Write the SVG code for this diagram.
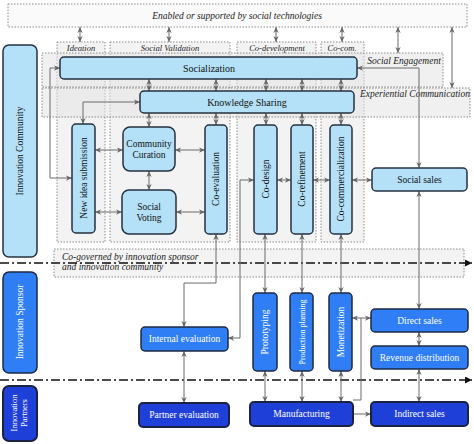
<svg xmlns="http://www.w3.org/2000/svg" width="474" height="444" viewBox="0 0 474 444">
<defs>
<style>
.dot{fill:#f3f3f3;stroke:#8a8a8a;stroke-width:1;stroke-dasharray:1.5 1.5}
.dotw{fill:#fafafa;stroke:#8a8a8a;stroke-width:1;stroke-dasharray:1.5 1.5}
.band{fill:#e4e4e4;fill-opacity:0.55;stroke:#8a8a8a;stroke-width:1;stroke-dasharray:1.5 1.5}
.lc{fill:#b5e1f8;stroke:#26313f;stroke-width:1.5}
.ls{fill:#2f7ef5;stroke:#1d2a44;stroke-width:1.5}
.lp{fill:#1f40d8;stroke:#1a2340;stroke-width:2}
.t{font-family:"Liberation Serif","Times New Roman",serif;font-size:9.5px;fill:#111;text-anchor:middle}
.tw{font-family:"Liberation Serif","Times New Roman",serif;font-size:9.5px;fill:#fff;text-anchor:middle}
.it{font-family:"Liberation Serif","Times New Roman",serif;font-style:italic;font-size:9.5px;fill:#222}
.ph{font-family:"Liberation Serif","Times New Roman",serif;font-style:italic;font-size:8.5px;fill:#222;text-anchor:middle}
.c{fill:none;stroke:#6b6b6b;stroke-width:1;marker-start:url(#a);marker-end:url(#a)}
.c1{fill:none;stroke:#6b6b6b;stroke-width:1;marker-end:url(#a)}
.c0{fill:none;stroke:#6b6b6b;stroke-width:1}
.dd{fill:none;stroke:#111;stroke-width:1.5;stroke-dasharray:9 3 2 3;marker-end:url(#b)}
</style>
<marker id="a" viewBox="0 0 8 8" refX="8" refY="4" markerWidth="6" markerHeight="6" markerUnits="userSpaceOnUse" orient="auto-start-reverse"><path d="M0,0.5 L8,4 L0,7.5 L2.2,4 z" fill="#666"/></marker>
<marker id="b" viewBox="0 0 8 8" refX="8" refY="4" markerWidth="7" markerHeight="7" markerUnits="userSpaceOnUse" orient="auto"><path d="M0,0 L8,4 L0,8 z" fill="#111"/></marker>
</defs>
<rect width="474" height="444" fill="#fff"/>

<g id="frames">
<rect class="dotw" x="8" y="4" width="459" height="23"/>
<text class="it" x="237" y="19" text-anchor="middle">Enabled or supported by social technologies</text>
<rect class="dot" x="57" y="42" width="48" height="200"/>
<rect class="dot" x="110" y="42" width="120" height="200"/>
<rect class="dot" x="237" y="42" width="79" height="200"/>
<rect class="dot" x="321" y="42" width="43" height="200"/>
<text class="ph" x="81" y="51">Ideation</text>
<text class="ph" x="170" y="51">Social Validation</text>
<text class="ph" x="277" y="51">Co-development</text>
<text class="ph" x="342" y="51">Co-com.</text>
<rect class="band" x="42" y="53" width="401" height="34"/>
<rect class="band" x="42" y="88" width="428" height="29"/>
<text class="it" x="404" y="64" text-anchor="middle">Social Engagement</text>
<text class="it" x="415" y="97" text-anchor="middle">Experiential Communication</text>
<rect class="dot" x="54" y="249" width="410" height="28"/>
<text class="it" x="62" y="260">Co-governed by innovation sponsor</text>
<text class="it" x="62" y="270">and innovation community</text>
<path class="dd" d="M0,263 H472"/>
<path class="dd" d="M0,380 H472"/>
</g>

<g id="connectors">
<path class="c" d="M80,27 V42"/>
<path class="c" d="M169,27 V42"/>
<path class="c" d="M276,27 V42"/>
<path class="c" d="M342,27 V42"/>
<path class="c" d="M398,27 V53"/>
<path class="c" d="M452,27 V88"/>
<path class="c" d="M149,79 V91"/>
<path class="c" d="M216,79 V91"/>
<path class="c" d="M266,79 V91"/>
<path class="c" d="M302,79 V91"/>
<path class="c" d="M341,79 V91"/>
<path class="c" d="M149,113 V127"/>
<path class="c" d="M216,113 V125"/>
<path class="c" d="M266,113 V125"/>
<path class="c" d="M302,113 V125"/>
<path class="c" d="M341,113 V125"/>
<path class="c" d="M140,102 H83 V124"/>
<path class="c" d="M60,68 H50 V178 H72"/>
<path class="c" d="M95,150 H123"/>
<path class="c" d="M95,212 H122"/>
<path class="c" d="M175,150 H205"/>
<path class="c" d="M176,212 H205"/>
<path class="c" d="M149,171 V190"/>
<path class="c" d="M254,180 H240 V338 H228"/>
<path class="c" d="M277,180 H291"/>
<path class="c" d="M313,180 H330"/>
<path class="c" d="M352,180 H372"/>
<path class="c" d="M216,234 V283 H184 V327"/>
<path class="c" d="M184,351 V403"/>
<path class="c" d="M265,234 V293"/>
<path class="c" d="M302,234 V293"/>
<path class="c" d="M341,234 V293"/>
<path class="c" d="M357,68 H419 V168"/>
<path class="c" d="M419,191 V309"/>
<path class="c" d="M419,332 V346"/>
<path class="c" d="M419,369 V402"/>
<path class="c" d="M352,318 H371"/>
<path class="c0" d="M353,400 H361 V318"/>
<path class="c1" d="M353,414 H371"/>
<path class="c" d="M265,371 V402"/>
<path class="c" d="M302,371 V402"/>
<path class="c" d="M341,371 V402"/>
</g>

<g id="lane-community"><rect class="lc" x="3" y="45" width="34" height="212" rx="6"/><text class="t" transform="rotate(-90 20 151)" x="20" y="154">Innovation Community</text></g>
<g id="lane-sponsor"><rect class="ls" x="3" y="272" width="34" height="101" rx="6"/><text class="tw" font-size="9" transform="rotate(-90 20 322)" x="20" y="325">Innovation Sponsor</text></g>
<g id="lane-partners"><rect class="lp" x="3" y="386" width="34" height="55" rx="6"/><text class="tw" style="font-size:8.5px" transform="rotate(-90 20 413)" x="20" y="410">Innovation</text><text class="tw" style="font-size:8.5px" transform="rotate(-90 20 413)" x="20" y="420">Partners</text></g>

<g id="socialization"><rect class="lc" x="60" y="57" width="297" height="22" rx="4"/><text class="t" style="font-size:10px" x="209" y="72">Socialization</text></g>
<g id="knowledge-sharing"><rect class="lc" x="140" y="91" width="214" height="22" rx="4"/><text class="t" style="font-size:10px" x="247" y="106">Knowledge Sharing</text></g>
<g id="new-idea"><rect class="lc" x="72" y="124" width="23" height="109" rx="4"/><text class="t" transform="rotate(-90 83.5 178)" x="83.5" y="181">New idea submission</text></g>
<g id="community-curation"><rect class="lc" x="123" y="127" width="52" height="44" rx="7"/><text class="t" x="149" y="147">Community</text><text class="t" x="149" y="158">Curation</text></g>
<g id="social-voting"><rect class="lc" x="122" y="190" width="54" height="44" rx="7"/><text class="t" x="149" y="210">Social</text><text class="t" x="149" y="221">Voting</text></g>
<g id="co-evaluation"><rect class="lc" x="205" y="125" width="22" height="109" rx="4"/><text class="t" transform="rotate(-90 216 179)" x="216" y="182">Co-evaluation</text></g>
<g id="co-design"><rect class="lc" x="254" y="125" width="23" height="109" rx="4"/><text class="t" transform="rotate(-90 265.5 179)" x="265.5" y="182">Co-design</text></g>
<g id="co-refinement"><rect class="lc" x="291" y="125" width="22" height="109" rx="4"/><text class="t" transform="rotate(-90 302 179)" x="302" y="182">Co-refinement</text></g>
<g id="co-commercialization"><rect class="lc" x="330" y="125" width="22" height="109" rx="4"/><text class="t" transform="rotate(-90 341 179)" x="341" y="182">Co-commercialization</text></g>
<g id="social-sales"><rect class="lc" x="372" y="168" width="95" height="23" rx="4"/><text class="t" x="419.5" y="183">Social sales</text></g>

<g id="internal-evaluation"><rect class="ls" x="141" y="327" width="87" height="24" rx="4"/><text class="tw" x="184.5" y="342">Internal evaluation</text></g>
<g id="prototyping"><rect class="ls" x="253" y="293" width="24" height="78" rx="4"/><text class="tw" transform="rotate(-90 265 332)" x="265" y="335">Prototyping</text></g>
<g id="production-planning"><rect class="ls" x="290" y="293" width="23" height="78" rx="4"/><text class="tw" style="font-size:8px" transform="rotate(-90 301.5 332)" x="301.5" y="335">Production planning</text></g>
<g id="monetization"><rect class="ls" x="329" y="293" width="23" height="78" rx="4"/><text class="tw" transform="rotate(-90 340.5 332)" x="340.5" y="335">Monetization</text></g>
<g id="direct-sales"><rect class="ls" x="371" y="309" width="97" height="23" rx="4"/><text class="tw" x="419.5" y="324">Direct sales</text></g>
<g id="revenue-distribution"><rect class="ls" x="371" y="346" width="97" height="23" rx="4"/><text class="tw" x="419.5" y="361">Revenue distribution</text></g>

<g id="partner-evaluation"><rect class="lp" x="139" y="403" width="90" height="24" rx="4"/><text class="tw" x="184" y="418">Partner evaluation</text></g>
<g id="manufacturing"><rect class="lp" x="250" y="402" width="103" height="24" rx="4"/><text class="tw" x="301.5" y="417">Manufacturing</text></g>
<g id="indirect-sales"><rect class="lp" x="371" y="402" width="97" height="24" rx="4"/><text class="tw" x="419.5" y="417">Indirect sales</text></g>
</svg>
